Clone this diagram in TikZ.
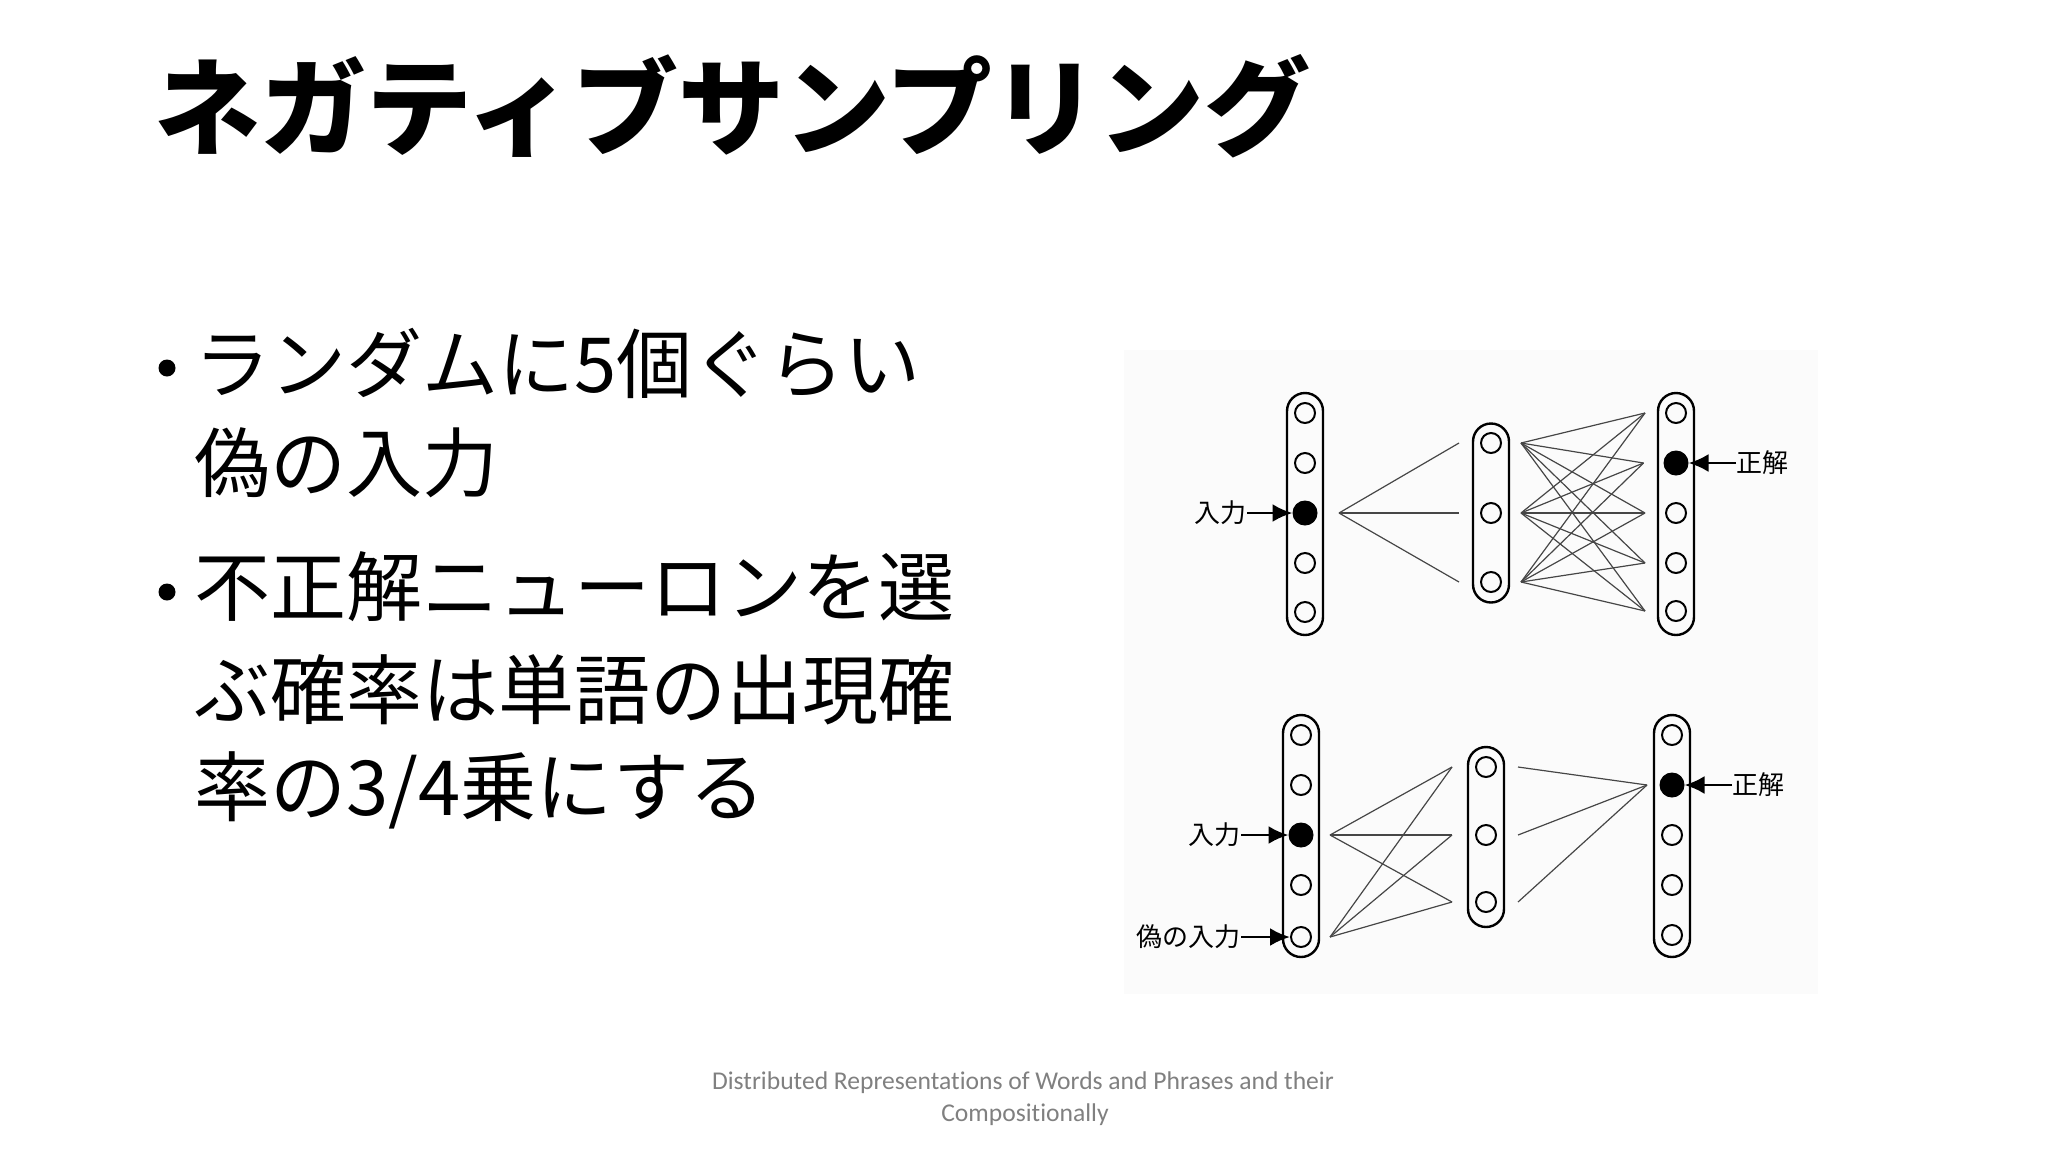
\documentclass[tikz,border=0pt]{standalone}
\usepackage{fontspec}
\usetikzlibrary{arrows.meta,calc}
\newfontfamily\jp{Noto Sans CJK JP}
\newfontfamily\footfont{Carlito}[Ligatures=NoCommon]
\definecolor{bgpanel}{RGB}{251,251,251}
\definecolor{footgray}{RGB}{128,128,128}
\definecolor{linkgray}{RGB}{70,70,70}
\begin{document}
\begin{tikzpicture}[x=0.5pt,y=-0.5pt,
 pill/.style={draw, line width=1.2pt, rounded corners=9pt, minimum width=18pt, inner sep=0},
 neuron/.style={circle, draw, line width=1pt, minimum size=10pt, inner sep=0},
 fired/.style={circle, draw, fill=black, line width=0.5pt, minimum size=12pt, inner sep=0},
 link/.style={draw=linkgray, line width=0.6pt},
 lbl/.style={font=\jp\fontsize{13}{15}\selectfont, inner sep=0},
 pointer/.style={line width=1.4pt, -{Latex[length=10pt,width=9pt]}},
 body/.style={font=\jp\fontsize{38}{46}\selectfont, anchor=west, inner sep=0},
 dot/.style={circle, fill=black, minimum size=8.5pt, inner sep=0},
 foot/.style={font=\footfont\fontsize{12.8}{15}\selectfont, text=footgray, inner sep=0}
]
\useasboundingbox (0,0) rectangle (2048,1152);
\fill[white] (0,0) rectangle (2048,1152);

% title
\node[font=\jp\bfseries\fontsize{53}{60}\selectfont, anchor=west, inner sep=0] (title) at (154,106) {ネガティブサンプリング};

% bullets
\node[dot] (b1) at (167,368) {};
\node[body] (l1) at (194,363) {ランダムに5個ぐらい};
\node[body] (l2) at (194,463) {偽の入力};
\node[dot] (b2) at (167,592) {};
\node[body] (l3) at (194,587) {不正解ニューロンを選};
\node[body] (l4) at (194,690) {ぶ確率は単語の出現確};
\node[body] (l5) at (194,790) {率の3/4乗にする};

% panel
\fill[bgpanel] (1124,350) rectangle (1818,994);

% ---------- top network ----------
\node[pill, minimum height=121pt] (tlp) at (1305,514) {};
\node[neuron] (tl1) at (1305,413) {};
\node[neuron] (tl2) at (1305,463) {};
\node[fired]  (tl3) at (1305,513) {};
\node[neuron] (tl4) at (1305,563) {};
\node[neuron] (tl5) at (1305,612) {};

\node[pill, minimum height=89.5pt] (tmp) at (1491,513) {};
\node[neuron] (tm1) at (1491,443) {};
\node[neuron] (tm2) at (1491,513) {};
\node[neuron] (tm3) at (1491,582) {};

\node[pill, minimum height=121pt] (trp) at (1676,514) {};
\node[neuron] (tr1) at (1676,413) {};
\node[fired]  (tr2) at (1676,463) {};
\node[neuron] (tr3) at (1676,513) {};
\node[neuron] (tr4) at (1676,563) {};
\node[neuron] (tr5) at (1676,611) {};

\coordinate (tA) at (1339,513);
\foreach \i in {1,2,3} \draw[link] (tA) -- ([xshift=-10.5pt]tm\i.west);
\foreach \i in {1,2,3} \foreach \j in {1,...,5}
  \draw[link] ([xshift=9.5pt]tm\i.east) -- ([xshift=-10pt]tr\j.west);

\node[lbl, anchor=east] (tin) at (1247,513) {入力};
\draw[pointer] (tin.east) -- (tl3.west);
\node[lbl, anchor=west] (tok) at (1736,463) {正解};
\draw[pointer] (tok.west) -- (tr2.east);

% ---------- bottom network ----------
\node[pill, minimum height=121pt] (blp) at (1301,836) {};
\node[neuron] (bl1) at (1301,735) {};
\node[neuron] (bl2) at (1301,785) {};
\node[fired]  (bl3) at (1301,835) {};
\node[neuron] (bl4) at (1301,885) {};
\node[neuron] (bl5) at (1301,937) {};

\node[pill, minimum height=90pt] (bmp) at (1486,837) {};
\node[neuron] (bm1) at (1486,767) {};
\node[neuron] (bm2) at (1486,835) {};
\node[neuron] (bm3) at (1486,902) {};

\node[pill, minimum height=121pt] (brp) at (1672,836) {};
\node[neuron] (br1) at (1672,735) {};
\node[fired]  (br2) at (1672,785) {};
\node[neuron] (br3) at (1672,835) {};
\node[neuron] (br4) at (1672,885) {};
\node[neuron] (br5) at (1672,935) {};

\coordinate (bA) at (1330,835);
\coordinate (bB) at (1330,937);
\coordinate (bZ) at (1647,785);
\foreach \i in {1,2,3} {
  \draw[link] (bA) -- ([xshift=-11.5pt]bm\i.west);
  \draw[link] (bB) -- ([xshift=-11.5pt]bm\i.west);
  \draw[link] ([xshift=10.5pt]bm\i.east) -- (bZ);
}

\node[lbl, anchor=east] (bin) at (1241,835) {入力};
\draw[pointer] (bin.east) -- (bl3.west);
\node[lbl, anchor=east] (bfake) at (1241,937) {偽の入力};
\draw[pointer] (bfake.east) -- (bl5.west);
\node[lbl, anchor=west] (bok) at (1732,785) {正解};
\draw[pointer] (bok.west) -- (br2.east);

% footer
\node[foot] (f1) at (1023,1083) {Distributed Representations of Words and Phrases and their};
\node[foot] (f2) at (1025,1115) {Compositionally};
\end{tikzpicture}
\end{document}
